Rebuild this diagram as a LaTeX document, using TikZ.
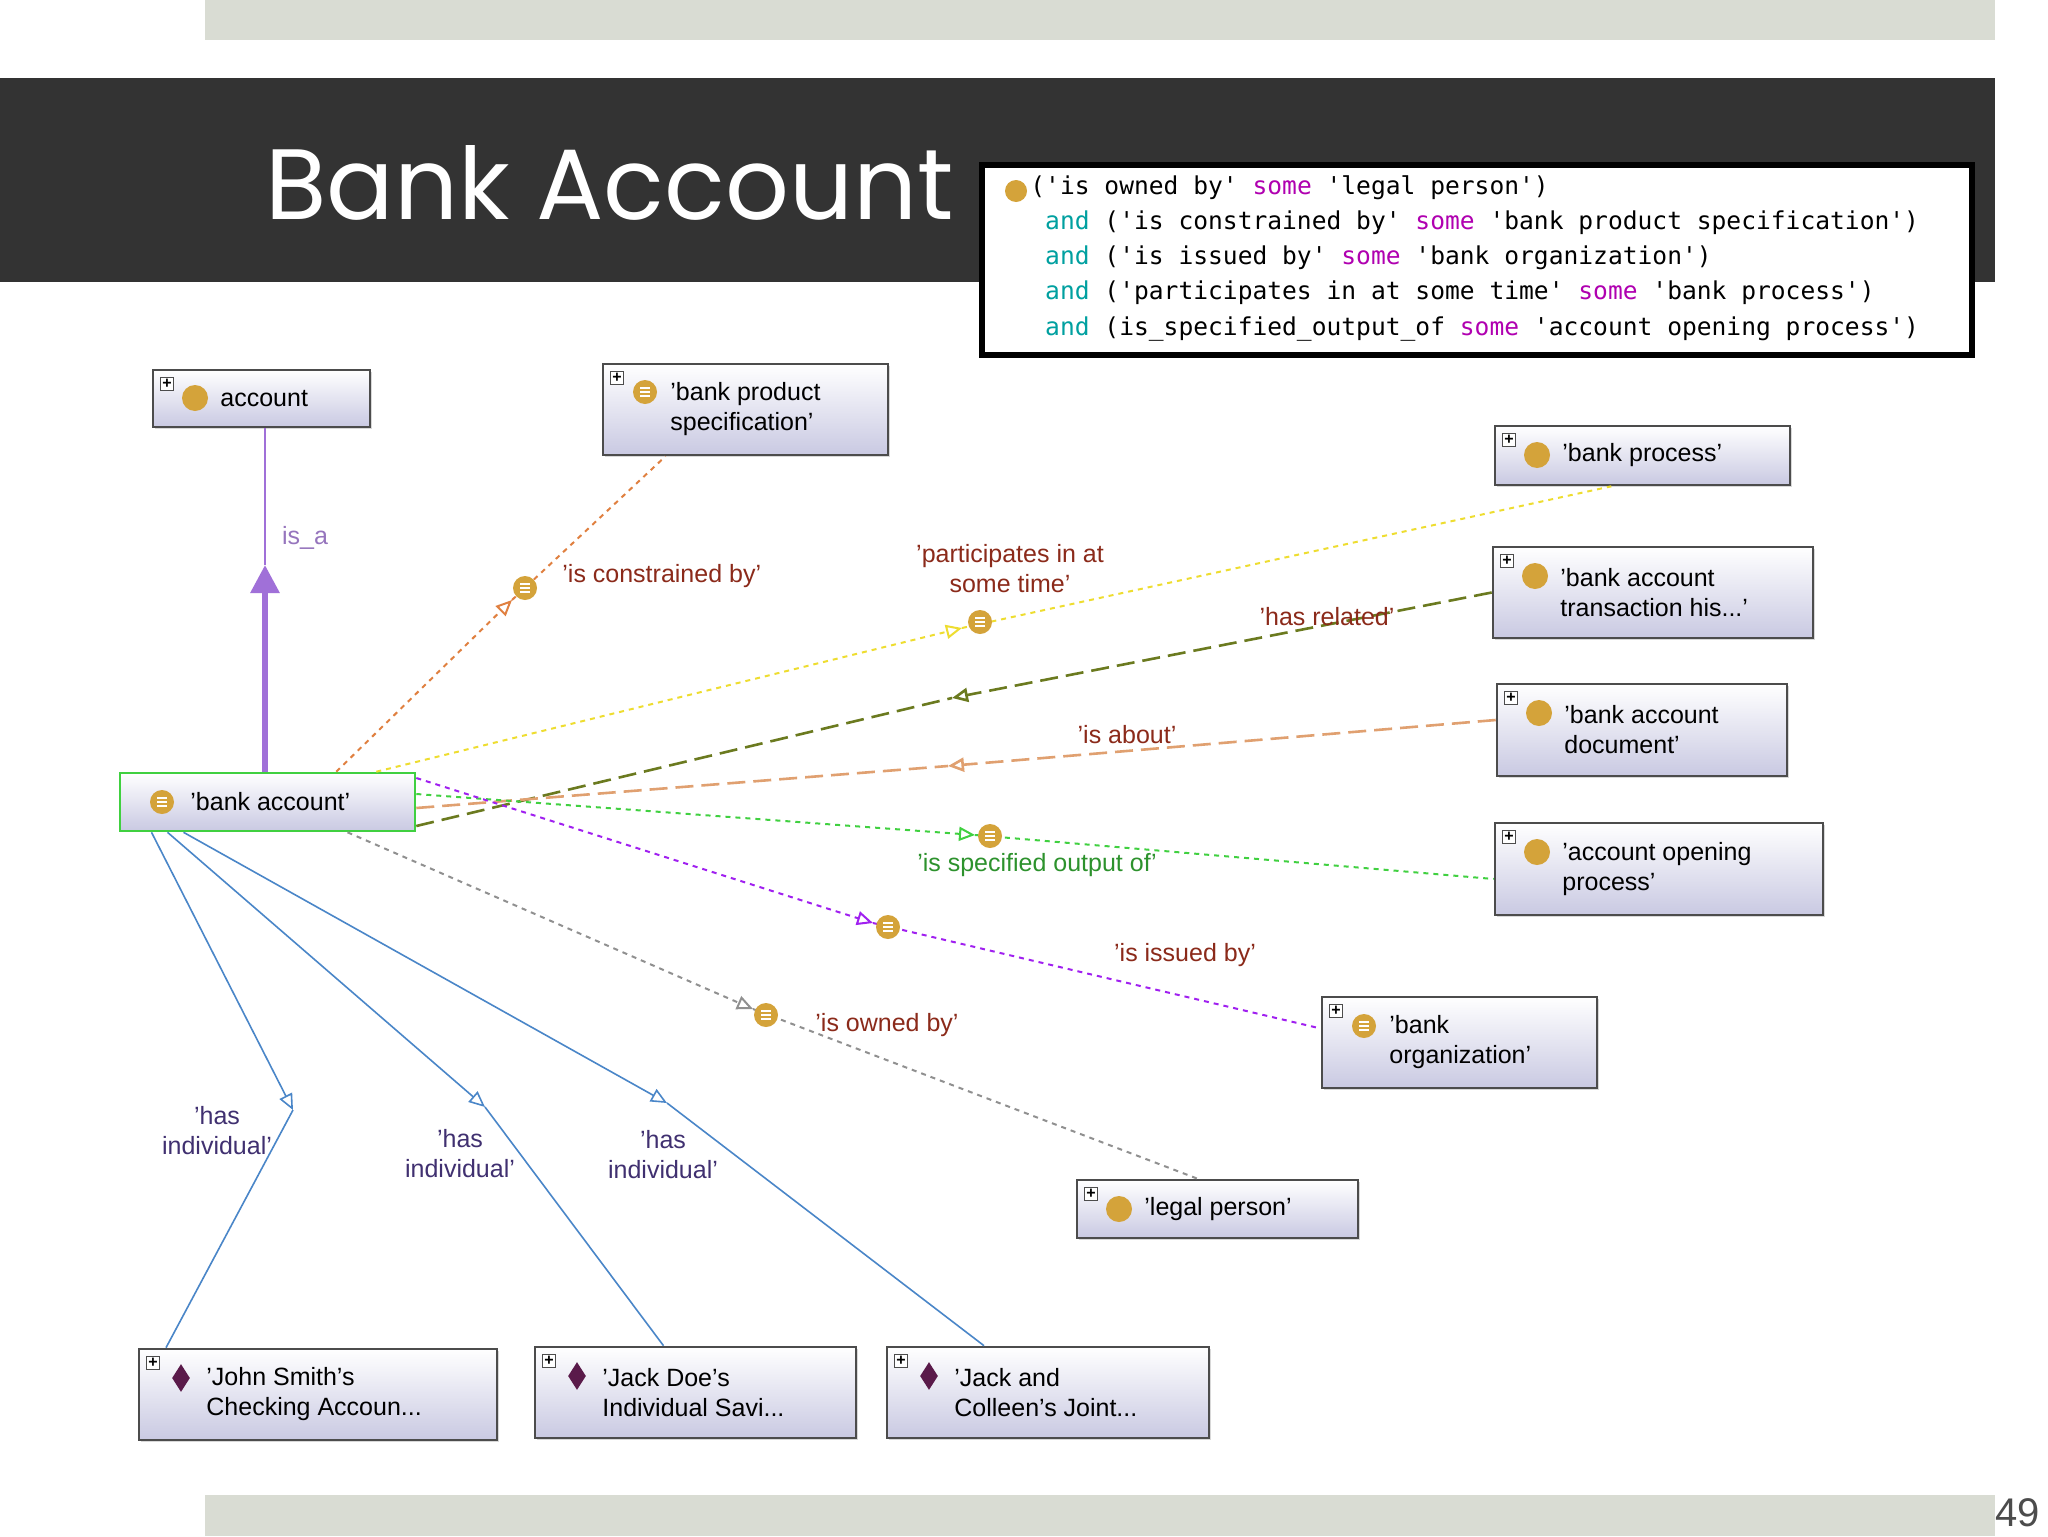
\documentclass[tikz,border=0pt]{standalone}
\usepackage{fontspec}
\setmainfont{Liberation Sans}
\newfontfamily\titlefont{Poppins}
\newfontfamily\codefont{DejaVu Sans Mono}
\usetikzlibrary{arrows.meta,shadows,shapes.geometric}
\definecolor{gold}{HTML}{D4A33A}
\definecolor{lav}{HTML}{C9C9E2}
\definecolor{lbl}{HTML}{8B2A1A}
\definecolor{tealc}{HTML}{00A0A0}
\definecolor{magc}{HTML}{B000B0}
\definecolor{cOr}{HTML}{E08040}
\definecolor{cYe}{HTML}{EEDD30}
\definecolor{cOl}{HTML}{6B7A1F}
\definecolor{cTa}{HTML}{E0A070}
\definecolor{cGr}{HTML}{40D040}
\definecolor{cPu}{HTML}{A020F0}
\definecolor{cGy}{HTML}{909090}
\definecolor{cBl}{HTML}{4A86C8}
\definecolor{cIsa}{HTML}{A070D8}
\definecolor{barc}{HTML}{D9DCD3}
\definecolor{darkc}{HTML}{333333}
\definecolor{indc}{HTML}{5A1A4A}
\definecolor{hic}{HTML}{403070}
\tikzset{
  x=0.5pt,y=-0.5pt,
  boxs/.style={draw=black!70,line width=1.3pt,top color=white,bottom color=lav,inner sep=0,drop shadow={shadow xshift=1pt,shadow yshift=-1pt,opacity=0.3}},
  plusbox/.style={draw=black!70,fill=white,line width=0.5pt,minimum size=6.5pt,inner sep=0,font=\fontsize{8}{8}\selectfont\bfseries},
  clsdot/.style={circle,fill=gold,minimum size=13pt,inner sep=0},
  txt/.style={font=\fontsize{12.5}{15}\selectfont,align=left,anchor=west,inner sep=0},
  lab/.style={font=\fontsize{12.5}{15}\selectfont,text=lbl,align=center,inner sep=0},
  dotl/.style={line width=1pt,dash pattern=on 2.5pt off 2.5pt},
  dashl/.style={line width=1.3pt,dash pattern=on 9pt off 4pt},
  otri/.style={-{Triangle[open,length=8pt,width=7pt]}},
}
\newcommand\eqmark[2]{\node[circle,fill=gold,minimum size=12pt,inner sep=0] (#1) at #2 {};
  \draw[white,line width=0.6pt] ([xshift=-2.5pt,yshift=2pt]#1.center)--++(5pt,0) ([xshift=-2.5pt]#1.center)--++(5pt,0) ([xshift=-2.5pt,yshift=-2pt]#1.center)--++(5pt,0);}
\newcommand\mkbox[8]{%
  \node[boxs,minimum width={(#4-#2)*0.5pt},minimum height={(#5-#3)*0.5pt}] (#1) at ({(#2+#4)/2},{(#3+#5)/2}) {};
  \node[plusbox] (#1p) at (#2+14,#3+14) {+};
  \ifx#6c\node[clsdot] (#1i) at (#2+42,#7) {};\fi
  \ifx#6e\eqmark{#1i}{(#2+42,#7)}\fi
  \ifx#6d\node[diamond,fill=indc,minimum width=9pt,minimum height=14pt,inner sep=0] (#1i) at (#2+42,#7) {};\fi
  \node[txt] (#1t) at (#2+67,{(#3+#5)/2}) {#8};}
\begin{document}
\begin{tikzpicture}
\useasboundingbox (0,0) rectangle (2048,1536);
\fill[white] (0,0) rectangle (2048,1536);
\fill[barc] (205,0) rectangle (1995,40);
\fill[barc] (205,1495) rectangle (1995,1536);
\fill[darkc] (0,78) rectangle (1995,282);
\node[text=white,font=\titlefont\fontsize{50}{50}\selectfont,anchor=west,inner sep=0] (title) at (265,183) {Bank Account};
\node[font=\fontsize{20}{20}\selectfont,text=black!70,anchor=east,inner sep=0] (pg) at (2040,1513) {49};
% formula
\node[draw=black,line width=3pt,fill=white,minimum width=495pt,minimum height=95pt,inner sep=0] (fb) at (1477,260) {};
\node[circle,fill=gold,minimum size=11pt,inner sep=0] (fdot) at (1016,191) {};
\node[anchor=north west,inner sep=0,align=left,font=\codefont\fontsize{12.3}{17.6}\selectfont] (ft) at (1030,175) {%
('is owned by' \textcolor{magc}{some} 'legal person')\\
\ \textcolor{tealc}{and} ('is constrained by' \textcolor{magc}{some} 'bank product specification')\\
\ \textcolor{tealc}{and} ('is issued by' \textcolor{magc}{some} 'bank organization')\\
\ \textcolor{tealc}{and} ('participates in at some time' \textcolor{magc}{some} 'bank process')\\
\ \textcolor{tealc}{and} (is\_specified\_output\_of \textcolor{magc}{some} 'account opening process')};
% boxes
\mkbox{acc}{153}{370}{370}{427}{c}{398}{account}
\mkbox{bps}{603}{364}{888}{455}{e}{392}{'bank product\\specification'}
\mkbox{bpr}{1495}{426}{1790}{485}{c}{455}{'bank process'}
\mkbox{bat}{1493}{547}{1813}{638}{c}{576}{'bank account\\transaction his...'}
\mkbox{bad}{1497}{684}{1787}{776}{c}{713}{'bank account\\document'}
\mkbox{aop}{1495}{823}{1823}{915}{c}{852}{'account opening\\process'}
\mkbox{bor}{1322}{997}{1597}{1088}{e}{1026}{'bank\\organization'}
\mkbox{lp}{1077}{1180}{1358}{1238}{c}{1209}{'legal person'}
\mkbox{js}{139}{1349}{497}{1440}{d}{1378}{'John Smith's\\Checking Accoun...}
\mkbox{jd}{535}{1347}{856}{1438}{d}{1376}{'Jack Doe's\\Individual Savi...}
\mkbox{jc}{887}{1347}{1209}{1438}{d}{1376}{'Jack and\\Colleen's Joint...}
% bank account
\node[draw=cGr,line width=1.3pt,top color=white,bottom color=lav,minimum width=147.5pt,minimum height=29pt,inner sep=0] (ba) at (267.5,802) {};
\eqmark{bai}{(162,802)}
\node[txt] (bat2) at (190,802) {'bank account'};
% is_a
\coordinate (isatip) at (265,565);
\draw[cIsa,line width=0.7pt] (acc.south -| isatip) -- (isatip);
\draw[cIsa,line width=3pt,-{Triangle[length=14pt,width=14pt]}] (ba.north -| isatip) -- (isatip);
\node[lab,text=cIsa!70!gray] (isal) at (305,538) {is\_a};
% constrained
\coordinate (t1) at (512,600);
\draw[cOr,dotl,otri] ([xshift=-40pt]ba.north east) -- (t1);
\draw[cOr,dotl] (t1) -- ([xshift=-40pt]bps.south);
\eqmark{m1}{(525,588)}
\node[lab,anchor=west] (l1) at (562,576) {'is constrained by'};
% participates
\coordinate (t2) at (962,628);
\draw[cYe,dotl,otri] ([xshift=-20pt]ba.north east) -- (t2);
\draw[cYe,dotl] (t2) -- ([xshift=-90pt]bpr.south east);
\eqmark{m2}{(980,622)}
\node[lab] (l2) at (1010,569) {'participates in at\\some time'};
% has related
\coordinate (t3) at (952,698);
\draw[cOl,dashl] ([yshift=-12pt]ba.east) -- (t3);
\draw[cOl,dashl,otri] (bat.west) -- (t3);
\node[lab] (l3) at (1327,617) {'has related'};
% is about
\coordinate (t4) at (948,766);
\draw[cTa,dashl] ([yshift=-3pt]ba.east) -- (t4);
\draw[cTa,dashl,otri] ([yshift=5pt]bad.west) -- (t4);
\node[lab] (l4) at (1127,735) {'is about'};
% specified output
\coordinate (t5) at (975,835);
\draw[cGr,dotl,otri] ([yshift=4pt]ba.east) -- (t5);
\draw[cGr,dotl] (t5) -- ([yshift=-5pt]aop.west);
\eqmark{m5}{(990,836)}
\node[lab,text=cGr!70!black] (l5) at (1037,865) {'is specified output of'};
% issued by
\coordinate (t6) at (873,923);
\draw[cPu,dotl,otri] ([yshift=12pt]ba.east) -- (t6);
\draw[cPu,dotl] (t6) -- ([yshift=7pt]bor.west);
\eqmark{m6}{(888,927)}
\node[lab] (l6) at (1185,955) {'is issued by'};
% owned by
\coordinate (t7) at (753,1009);
\draw[cGy,dotl,otri] ([xshift=40pt]ba.south) -- (t7);
\draw[cGy,dotl] (t7) -- ([xshift=-10pt]lp.north);
\eqmark{m7}{(766,1015)}
\node[lab,anchor=west] (l7) at (815,1025) {'is owned by'};
% has individual
\coordinate (h1t) at (293,1110);
\coordinate (h2t) at (485,1107);
\coordinate (h3t) at (667,1103);
\draw[cBl,line width=0.8pt,otri] ([xshift=-58pt]ba.south) -- (h1t);
\draw[cBl,line width=0.8pt] (h1t) -- ([xshift=-76pt]js.north);
\draw[cBl,line width=0.8pt,otri] ([xshift=-50pt]ba.south) -- (h2t);
\draw[cBl,line width=0.8pt] (h2t) -- ([xshift=-16pt]jd.north);
\draw[cBl,line width=0.8pt,otri] ([xshift=-42pt]ba.south) -- (h3t);
\draw[cBl,line width=0.8pt] (h3t) -- ([xshift=-32pt]jc.north);
\node[lab,text=hic] (h1) at (217,1131) {'has\\individual'};
\node[lab,text=hic] (h2) at (460,1154) {'has\\individual'};
\node[lab,text=hic] (h3) at (663,1155) {'has\\individual'};
\end{tikzpicture}
\end{document}
